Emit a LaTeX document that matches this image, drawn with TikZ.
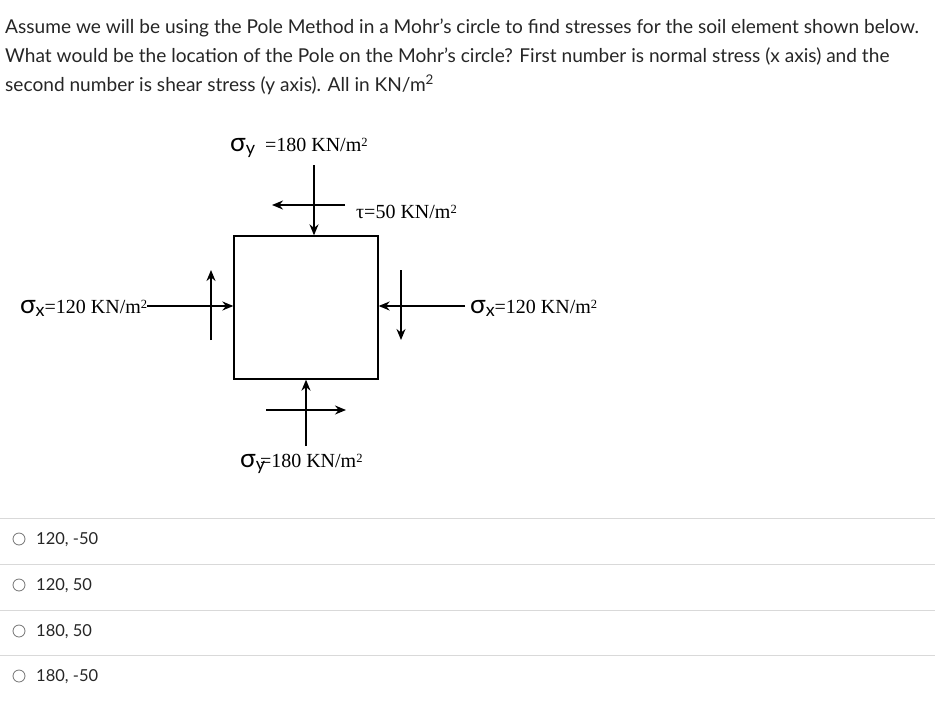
\documentclass[tikz,border=0pt]{standalone}
\usepackage{fontspec}
\setmainfont{Lato}
\newfontfamily\tnr{Liberation Serif}
\usetikzlibrary{arrows.meta}
\tikzset{
  q/.style={anchor=base west,inner sep=0pt,font=\fontsize{19.1}{22}\selectfont,text=black!85},
  opt/.style={anchor=base west,inner sep=0pt,font=\fontsize{16.5}{19}\selectfont,text=black!85},
  radio/.style={circle,draw=black!55,line width=0.8pt,minimum size=12pt,inner sep=0pt},
  sep/.style={draw=black!15,line width=0.8pt},
  lab/.style={inner sep=0pt,font=\tnr\fontsize{20}{21}\selectfont},
  force/.style={line width=1.6pt,-{Stealth[length=11pt,width=9pt]}},
}
\newcommand{\sg}[1]{{\fontsize{26}{26}\selectfont\rmfamily σ}\raisebox{-3pt}{\fontsize{18}{18}\selectfont\rmfamily #1}}
\newcommand{\sqm}{m\raisebox{5pt}{\fontsize{12.5}{12.5}\selectfont 2}}
\begin{document}
\begin{tikzpicture}[x=1pt,y=-1pt]
\useasboundingbox[fill=white] (0,0) rectangle (949,706);
\node[q] (t1) at (5,34) {Assume we will be using the Pole Method in a Mohr's circle to find stresses for the soil element shown below.};
\node[q] (t2) at (5,63) {What would be the location of the Pole on the Mohr's circle? First number is normal stress (x axis) and the};
\node[q] (t3) at (5,92) {second number is shear stress (y axis). All in KN/m\textsuperscript{2}};
% element
\node[draw,line width=1.3pt,minimum width=144pt,minimum height=143pt,inner sep=0pt] (box) at (306,307.5) {};
% top
\coordinate (tt) at (314,165);
\draw[force] (tt) -- (box.north -| tt);
\coordinate (th1) at (345,205); \coordinate (th2) at (272,205);
\draw[force] (th1) -- (th2);
\node[lab,anchor=base west] (sy1) at (230,151) {\sg{y}\,\,\,=180 KN/\sqm};
\node[lab,anchor=base west] (tau) at (356,218) {τ=50 KN/\sqm};
% left
\node[lab,anchor=base west] (sxl) at (20,313) {\sg{x}=120 KN/\sqm};
\draw[force] (sxl.east |- 0,306) -- (box.west |- 0,306);
\coordinate (lv1) at (211,340); \coordinate (lv2) at (211,270);
\draw[force] (lv1) -- (lv2);
% right
\coordinate (rh) at (465,306);
\draw[force] (rh) -- (box.east |- rh);
\coordinate (rv1) at (401,270); \coordinate (rv2) at (401,340);
\draw[force] (rv1) -- (rv2);
\node[lab,anchor=base west] (sxr) at (470,313) {\sg{x}=120 KN/\sqm};
% bottom
\coordinate (bb) at (306,446);
\draw[force] (bb) -- (box.south -| bb);
\coordinate (bh1) at (266,410); \coordinate (bh2) at (346,410);
\draw[force] (bh1) -- (bh2);
\node[lab,anchor=base west] (sy2) at (240,467) {\sg{y}\hspace{-5pt}=180 KN/\sqm};
% options
\foreach \y/\t [count=\i] in {539/{120, -50},585/{120, 50},631/{180, 50},676/{180, -50}}{
  \draw[sep] (0,\y-21) -- (935,\y-21);
  \node[radio] (r\i) at (19,\y) {};
  \node[opt] (o\i) at (36,\y+5.5) {\t};
}
\end{tikzpicture}
\end{document}
